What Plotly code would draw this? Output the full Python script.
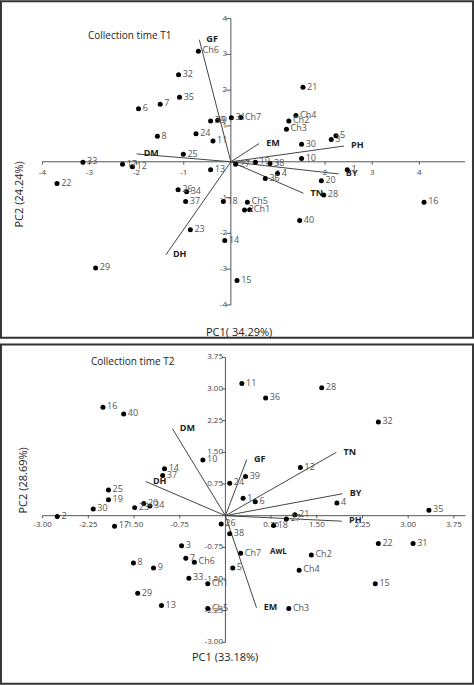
import plotly.graph_objects as go

# ---- T1 data ----
t1_labels = ["Ch6", "32", "35", "7", "6", "21", "Ch4", "Ch2", "Ch3", "39", "9", "31", "Ch7",
             "24", "11", "8", "5", "3", "30", "10", "25", "33", "17", "12", "22", "13", "27",
             "19", "38", "1", "4", "36", "20", "28", "26", "34", "37", "18", "Ch5", "2", "Ch1",
             "23", "14", "40", "16", "29", "15"]
t1_x = [-0.69, -1.11, -1.09, -1.50, -1.96, 1.53, 1.38, 1.23, 1.18, -0.43, -0.28, 0.01, 0.21,
        -0.74, -0.38, -1.56, 2.23, 2.13, 1.50, 1.50, -1.01, -3.14, -2.30, -2.09, -3.69, -0.43, 0.10,
        0.52, 0.83, 2.47, 0.99, 0.73, 1.92, 1.97, -1.12, -0.94, -0.96, -0.16, 0.35, 0.29, 0.40,
        -0.86, -0.13, 1.46, 4.10, -2.87, 0.13]
t1_y = [3.09, 2.43, 1.80, 1.61, 1.48, 2.08, 1.29, 1.14, 0.91, 1.14, 1.16, 1.23, 1.24,
        0.78, 0.58, 0.71, 0.73, 0.62, 0.49, 0.09, 0.21, -0.01, -0.07, -0.14, -0.61, -0.22, -0.07,
        -0.01, -0.05, -0.22, -0.33, -0.47, -0.53, -0.93, -0.78, -0.84, -1.11, -1.11, -1.13, -1.35, -1.34,
        -1.90, -2.20, -1.64, -1.13, -2.97, -3.32]
t1_vec_names = ["GF", "EM", "PH", "BY", "TN", "DM", "DH"]
t1_vec_x = [-0.67, 0.60, 2.40, 2.29, 1.54, -2.00, -1.38]
t1_vec_y = [3.41, 0.51, 0.44, -0.34, -0.88, 0.22, -2.60]
t1_ticks = [-4, -3, -2, -1, 1, 2, 3, 4]

# ---- T2 data ----
t2_labels = ["11", "36", "28", "32", "16", "40", "10", "12", "14", "37", "39", "24", "25", "19",
             "20", "34", "23", "30", "1", "6", "4", "35", "2", "17", "21", "27", "18", "26", "38",
             "3", "Ch7", "22", "31", "7", "Ch6", "Ch2", "8", "9", "5", "Ch4", "33", "Ch1", "15",
             "29", "13", "Ch5", "Ch3"]
t2_x = [0.27, 0.66, 1.58, 2.51, -2.01, -1.67, -0.37, 1.23, -1.00, -1.03, 0.33, 0.07, -1.92, -1.92,
        -1.34, -1.24, -1.49, -2.17, 0.29, 0.49, 1.83, 3.34, -2.76, -1.82, 1.14, 1.00, 0.79, -0.07, 0.07,
        -0.72, 0.25, 2.51, 3.08, -0.65, -0.51, 1.41, -1.51, -1.18, 0.12, 1.21, -0.60, -0.29, 2.46,
        -1.44, -1.05, -0.29, 1.04]
t2_y = [3.13, 2.79, 3.03, 2.22, 2.57, 2.41, 1.32, 1.14, 1.11, 0.95, 0.93, 0.77, 0.61, 0.38,
        0.29, 0.23, 0.19, 0.16, 0.41, 0.33, 0.30, 0.13, -0.02, -0.25, 0.02, -0.08, -0.23, -0.20, -0.43,
        -0.71, -0.89, -0.66, -0.66, -1.01, -1.10, -0.93, -1.12, -1.24, -1.24, -1.29, -1.48, -1.61, -1.61,
        -1.84, -2.13, -2.20, -2.20]
t2_vec_names = ["DM", "GF", "TN", "BY", "PH", "EM", "DH"]
t2_vec_x = [-0.87, 0.35, 1.82, 1.92, 1.91, 0.51, -1.31]
t2_vec_y = [2.06, 1.33, 1.50, 0.52, -0.13, -2.18, 0.81]
t2_ticks = [-3.00, -2.25, -1.50, -0.75, 0.75, 1.50, 2.25, 3.00, 3.75]

FONT = "Open Sans"
fig = go.Figure()


def add_panel(xa, ya, labels, xs, ys, vnames, vx, vy, ticks, fmt,
              xspan, yspan, tl, xlab_off, ylab_off, lab_dx):
    xr, yr = "x" + xa, "y" + ya
    # axes
    fig.add_trace(go.Scatter(x=[xspan[0], xspan[1], None, 0, 0], y=[0, 0, None, yspan[0], yspan[1]],
                             mode="lines", line=dict(color="#555", width=1),
                             xaxis=xr, yaxis=yr, hoverinfo="skip"))
    tx, ty = [], []
    for t in ticks:
        tx += [t, t, None]
        ty += [0, -tl[1], None]
        tx += [0, -tl[0], None]
        ty += [t, t, None]
    fig.add_trace(go.Scatter(x=tx, y=ty, mode="lines", line=dict(color="#555", width=1),
                             xaxis=xr, yaxis=yr, hoverinfo="skip"))
    txt = [fmt(t) for t in ticks]
    fig.add_trace(go.Scatter(x=ticks, y=[xlab_off] * len(ticks), mode="text", text=txt,
                             textfont=dict(family=FONT, size=8, color="#444"),
                             xaxis=xr, yaxis=yr, hoverinfo="skip"))
    fig.add_trace(go.Scatter(x=[ylab_off] * len(ticks), y=ticks, mode="text", text=txt,
                             textposition="middle left",
                             textfont=dict(family=FONT, size=8, color="#444"),
                             xaxis=xr, yaxis=yr, hoverinfo="skip"))
    # vectors
    lx, ly = [], []
    for a, b in zip(vx, vy):
        lx += [0, a, None]
        ly += [0, b, None]
    fig.add_trace(go.Scatter(x=lx, y=ly, mode="lines", line=dict(color="#444", width=1),
                             xaxis=xr, yaxis=yr, hoverinfo="skip"))
    fig.add_trace(go.Scatter(x=[a + lab_dx for a in vx], y=vy, mode="text", text=vnames,
                             textposition="middle right",
                             textfont=dict(family=FONT, size=9, color="#222"),
                             texttemplate="<b>%{text}</b>",
                             xaxis=xr, yaxis=yr, hoverinfo="skip"))
    # points
    fig.add_trace(go.Scatter(x=xs, y=ys, mode="markers+text", text=labels,
                             textposition="middle right",
                             marker=dict(color="black", size=5),
                             textfont=dict(family=FONT, size=9, color="#555"),
                             xaxis=xr, yaxis=yr, hoverinfo="skip"))


add_panel("", "", t1_labels, t1_x, t1_y, t1_vec_names, t1_vec_x, t1_vec_y, t1_ticks,
          lambda t: str(t), (-4, 4.97), (-4, 4), (0.1, 0.08), -0.3, -0.08, 0.15)
add_panel("2", "2", t2_labels, t2_x, t2_y, t2_vec_names, t2_vec_x, t2_vec_y, t2_ticks,
          lambda t: f"{t:.2f}", (-3.0, 3.94), (-3.0, 3.75), (0.06, 0.06), -0.22, -0.04, 0.12)
fig.add_trace(go.Scatter(x=[0.87], y=[-0.87], mode="text", text=["<b>AwL</b>"],
                         textfont=dict(family=FONT, size=8, color="#222"),
                         xaxis="x2", yaxis="y2", hoverinfo="skip"))

hide = dict(visible=False, showgrid=False, zeroline=False)
fig.update_layout(
    width=474, height=685, margin=dict(l=0, r=0, t=0, b=0),
    plot_bgcolor="white", paper_bgcolor="white", showlegend=False,
    xaxis=dict(hide, range=[-4.90, 5.16], domain=[0, 1], anchor="y"),
    yaxis=dict(hide, range=[-4.98, 4.52], domain=[0.5036, 1], anchor="x"),
    xaxis2=dict(hide, range=[-3.70, 4.08], domain=[0, 1], anchor="y2"),
    yaxis2=dict(hide, range=[-4.01, 4.16], domain=[0, 0.5036], anchor="x2"),
    shapes=[
        dict(type="rect", xref="paper", yref="paper", x0=0.002, x1=0.998, y0=0.507, y1=0.998,
             line=dict(color="#333", width=2)),
        dict(type="rect", xref="paper", yref="paper", x0=0.002, x1=0.998, y0=0.002, y1=0.497,
             line=dict(color="#333", width=2)),
    ],
    annotations=[
        dict(text="Collection time T1", x=86 / 474, y=1 - 26 / 685, xref="paper", yref="paper",
             showarrow=False, font=dict(family=FONT, size=10, color="#222")),
        dict(text="PC1( 34.29%)", x=239 / 474, y=1 - 331 / 685, xref="paper", yref="paper",
             showarrow=False, font=dict(family=FONT, size=11, color="#222")),
        dict(text="PC2 (24.24%)", x=9 / 474, y=1 - 160 / 685, xref="paper", yref="paper",
             showarrow=False, textangle=-90, font=dict(family=FONT, size=11, color="#222")),
        dict(text="Collection time T2", x=89 / 474, y=1 - 361 / 685, xref="paper", yref="paper",
             showarrow=False, font=dict(family=FONT, size=10, color="#222")),
        dict(text="PC1 (33.18%)", x=225 / 474, y=1 - 666 / 685, xref="paper", yref="paper",
             showarrow=False, font=dict(family=FONT, size=11, color="#222")),
        dict(text="PC2 (28.69%)", x=12 / 474, y=1 - 516 / 685, xref="paper", yref="paper",
             showarrow=False, textangle=-90, font=dict(family=FONT, size=11, color="#222")),
    ],
)

fig.write_html("out.html", config={"displayModeBar": False},
               post_script="document.body.style.margin='0';")
